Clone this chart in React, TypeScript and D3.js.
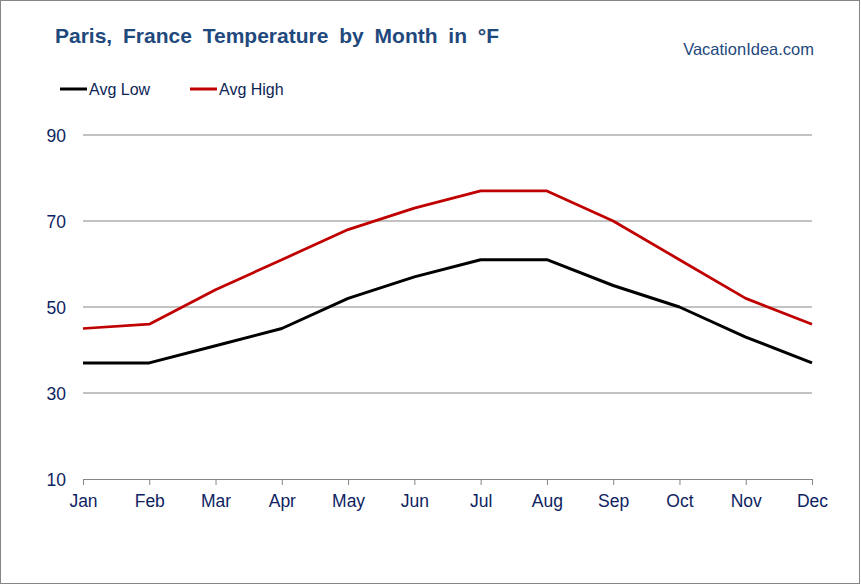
import { useEffect, useRef } from 'react';
import * as d3 from 'd3';

const months = ['Jan', 'Feb', 'Mar', 'Apr', 'May', 'Jun', 'Jul', 'Aug', 'Sep', 'Oct', 'Nov', 'Dec'];
const avgLow = [37, 37, 41, 45, 52, 57, 61, 61, 55, 50, 43, 37];
const avgHigh = [45, 46, 54, 61, 68, 73, 77, 77, 70, 61, 52, 46];
const yTicks = [10, 30, 50, 70, 90];

const W = 861;
const H = 585;
const FONT = 'Arial, "Liberation Sans", sans-serif';

export default function App() {
  const svgRef = useRef<SVGSVGElement>(null);

  useEffect(() => {
    document.body.style.margin = '0';
    if (!svgRef.current) return;
    const svg = d3.select(svgRef.current);
    svg.selectAll('*').remove();

    const left = 83;
    const right = 812;
    const top = 135;
    const bottom = 479;

    const x = d3.scalePoint<string>().domain(months).range([left, right]);
    const y = d3.scaleLinear().domain([10, 90]).range([bottom, top]);

    svg.append('rect')
      .attr('x', 0.5).attr('y', 0.5)
      .attr('width', W - 2).attr('height', H - 2)
      .attr('fill', '#fff')
      .attr('stroke', '#868686');

    // Title
    svg.append('text')
      .attr('x', 55).attr('y', 43)
      .attr('font-family', FONT)
      .attr('font-size', 21)
      .attr('font-weight', 'bold')
      .attr('word-spacing', 5)
      .attr('fill', '#1F497D')
      .text('Paris, France Temperature by Month in °F');

    svg.append('text')
      .attr('x', 814).attr('y', 55)
      .attr('text-anchor', 'end')
      .attr('font-family', FONT)
      .attr('font-size', 16.5)
      .attr('fill', '#1F497D')
      .text('VacationIdea.com');

    // Legend
    const legend = [
      { name: 'Avg Low', color: '#000000', x: 60 },
      { name: 'Avg High', color: '#C00000', x: 190 },
    ];
    legend.forEach((l) => {
      svg.append('line')
        .attr('x1', l.x).attr('x2', l.x + 27)
        .attr('y1', 89).attr('y2', 89)
        .attr('stroke', l.color)
        .attr('stroke-width', 3);
      svg.append('text')
        .attr('x', l.x + 29).attr('y', 94.5)
        .attr('font-family', FONT)
        .attr('font-size', 16)
        .attr('fill', '#0D1F55')
        .text(l.name);
    });

    // Gridlines & y labels
    yTicks.forEach((t) => {
      if (t !== 10) {
        svg.append('line')
          .attr('x1', left).attr('x2', right)
          .attr('y1', y(t)).attr('y2', y(t))
          .attr('stroke', '#868686')
          .attr('stroke-width', 1);
      }
      svg.append('text')
        .attr('x', 66).attr('y', y(t) + 6.5)
        .attr('text-anchor', 'end')
        .attr('font-family', FONT)
        .attr('font-size', 17.5)
        .attr('fill', '#0D2361')
        .text(t);
    });

    // X axis
    const xAxis = svg.append('g')
      .attr('transform', `translate(0,${bottom})`)
      .call(d3.axisBottom(x).tickSize(6).tickSizeOuter(0).tickPadding(10));
    xAxis.selectAll('.domain, .tick line').attr('stroke', '#868686');
    xAxis.selectAll('text')
      .attr('font-family', FONT)
      .attr('font-size', 17.5)
      .attr('fill', '#0D2361');

    const line = d3.line<number>()
      .x((_d, i) => x(months[i]) ?? 0)
      .y((d) => y(d));

    svg.append('path')
      .datum(avgLow)
      .attr('fill', 'none')
      .attr('stroke', '#000000')
      .attr('stroke-width', 3)
      .attr('stroke-linejoin', 'round')
      .attr('d', line);

    svg.append('path')
      .datum(avgHigh)
      .attr('fill', 'none')
      .attr('stroke', '#C00000')
      .attr('stroke-width', 2.75)
      .attr('stroke-linejoin', 'round')
      .attr('d', line);
  }, []);

  return <svg ref={svgRef} width={W} height={H} style={{ display: 'block' }} />;
}
